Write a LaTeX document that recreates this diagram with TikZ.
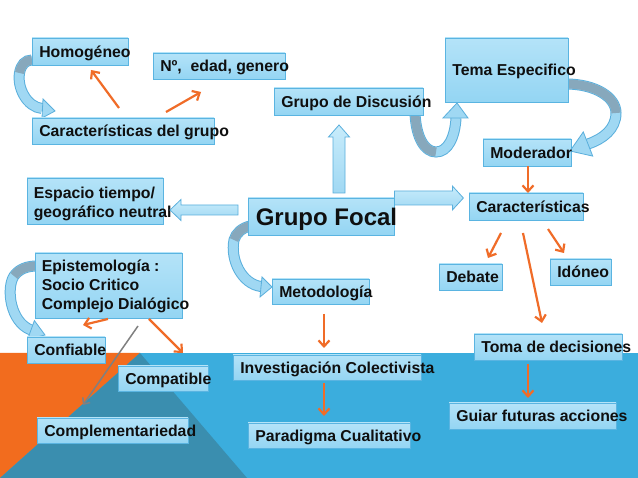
\documentclass[tikz,border=0pt]{standalone}
\usepackage{fontspec}
\setmainfont{Liberation Sans}
\usetikzlibrary{arrows.meta,shadows,calc}
\pgfdeclarelayer{bgl}
\pgfdeclarelayer{midl}
\pgfsetlayers{bgl,midl,main}
\definecolor{bxtop}{RGB}{180,227,248}
\definecolor{bxmid}{RGB}{200,236,251}
\definecolor{bxbot}{RGB}{148,213,243}
\definecolor{bxbord}{RGB}{90,180,225}
\definecolor{rfill}{RGB}{160,216,243}
\definecolor{rbord}{RGB}{90,175,220}
\definecolor{rgray}{RGB}{135,168,188}
\definecolor{oran}{RGB}{240,108,40}
\definecolor{bgorange}{RGB}{242,108,30}
\definecolor{bgblue}{RGB}{59,173,221}
\definecolor{bgteal}{RGB}{58,142,175}
\definecolor{txtc}{RGB}{15,15,15}
\newcommand{\mybox}[6]{%
  \node[boxst, minimum width=#4pt, minimum height=#5pt] (#1) at (#2,#3) {};
  \node[txt, anchor=west] (#1t) at ([xshift=7.5pt]#1.west) {#6};}
\begin{document}
\begin{tikzpicture}[x=1pt,y=-1pt,
  boxst/.style={draw=bxbord, line width=0.8pt, top color=bxtop, middle color=bxmid, bottom color=bxbot, inner sep=0pt,
    drop shadow={opacity=0.3, shadow xshift=1.2pt, shadow yshift=-1.5pt}},
  txt/.style={inner sep=0pt, font=\fontsize{15.8}{19}\selectfont\bfseries, text=txtc, text height=11.3pt, text depth=0pt},
  txtm/.style={inner sep=0pt, font=\fontsize{15.8}{19}\selectfont\bfseries, text=txtc, align=left},
  oar/.style={draw=oran, line width=2.2pt, -{Straight Barb[length=6pt,width=11pt]}},
  gar/.style={draw=gray, line width=1.5pt, -{Straight Barb[length=5pt,width=9pt]}},
  rb/.style={draw=rbord, line width=11pt},
  rf/.style={draw=rfill, line width=9pt},
  rg/.style={draw=rgray, line width=9pt},
  rh/.style={fill=rfill, draw=rbord, line width=0.8pt, line join=miter},
  barr/.style={top color=bxmid, bottom color=rfill, draw=rbord, line width=0.8pt}
]
\useasboundingbox (0,0) rectangle (638,478);
\begin{pgfonlayer}{bgl}
  \fill[white] (0,0) rectangle (638,478);
  \fill[bgblue] (0,353) rectangle (638,478);
  \fill[bgorange] (0,353) -- (140,353) -- (0,478) -- cycle;
  \fill[bgteal] (140,353) -- (247,478) -- (0,478) -- cycle;
\end{pgfonlayer}

% boxes
\mybox{hom}{80}{51.5}{96}{27}{Homogéneo}
\mybox{nro}{219}{66}{132}{26}{Nº,\ \ edad, genero}
\mybox{cg}{123}{131}{182}{26}{Características del grupo}
\node[boxst, minimum width=136pt, minimum height=46pt] (esp) at (95,201) {};
\node[txtm, anchor=west] (espt) at ([shift={(7pt,2.5)}]esp.west) {Espacio tiempo/\\geográfico neutral};
\mybox{gd}{348.5}{101.5}{149}{27}{Grupo de Discusión}
\mybox{tema}{506.5}{70}{123}{64}{Tema Especifico}
\mybox{mod}{527}{152.5}{88}{27}{Moderador}
\mybox{car}{526}{206.5}{114}{27}{Características}
\node[boxst, minimum width=146pt, minimum height=37pt] (gf) at (321,216.5) {};
\node[txt, font=\fontsize{24}{28}\selectfont\bfseries, text height=17.2pt, anchor=west] (gft) at ([xshift=8pt]gf.west) {Grupo Focal};
\mybox{met}{320.5}{291.5}{97}{25}{Metodología}
\node[boxst, minimum width=147pt, minimum height=65pt] (epi) at (108.5,285.5) {};
\node[txtm, anchor=west] (epit) at ([shift={(7pt,0.5)}]epi.west) {Epistemología :\\Socio Critico\\Complejo Dialógico};
\mybox{conf}{66}{350}{78}{26}{Confiable}
\mybox{comp}{163}{378.5}{90}{25}{Compatible}
\mybox{compl}{112.5}{430.5}{151}{25}{Complementariedad}
\mybox{inv}{327}{367.5}{188}{25}{Investigación Colectivista}
\mybox{par}{329}{435.5}{162}{25}{Paradigma Cualitativo}
\mybox{deb}{470.5}{277}{63}{26}{Debate}
\mybox{ido}{580.5}{272}{61}{26}{Idóneo}
\mybox{toma}{548}{347}{148}{26}{Toma de decisiones}
\mybox{guiar}{532.5}{416}{167}{26}{Guiar futuras acciones}

% curved ribbons and straight block arrows, under the boxes
\begin{pgfonlayer}{midl}
  % Homogeneo -> Caracteristicas del grupo
  \draw[rb] (32,60) .. controls (25,60) and (21,65) .. (19.5,73) .. controls (17,88) and (27,107) .. (42,108.5);
  \draw[rf] (32,60) .. controls (25,60) and (21,65) .. (19.5,73) .. controls (17,88) and (27,107) .. (42,108.5);
  \draw[rg] (32,60) .. controls (25,60) and (21,65) .. (19.5,73);
  \draw[rh] (55,111) -- (43,99) -- (42,118) -- cycle;
  % Grupo de Discusion -> Tema Especifico
  \draw[rb] (415,113) .. controls (416,138) and (425,152) .. (436,152) .. controls (448,152) and (455,137) .. (456,118);
  \draw[rf] (415,113) .. controls (416,138) and (425,152) .. (436,152) .. controls (448,152) and (455,137) .. (456,118);
  \draw[rg] (415,113) .. controls (416,138) and (425,152) .. (436,152);
  \draw[rh] (457,103) -- (468,118) -- (443,118) -- cycle;
  % Tema Especifico -> Moderador
  \draw[rb] (566,84) .. controls (595,84) and (616,97) .. (616,113) .. controls (616,129) and (603,139) .. (588,144);
  \draw[rf] (566,84) .. controls (595,84) and (616,97) .. (616,113) .. controls (616,129) and (603,139) .. (588,144);
  \draw[rg] (566,84) .. controls (595,84) and (616,97) .. (616,113);
  \draw[rh] (570,151) -- (583.3,131.9) -- (592.7,156.1) -- cycle;
  % Epistemologia -> Confiable
  \draw[rb] (37,266) .. controls (27,266) and (19,269) .. (14,276) .. controls (6,288) and (10,322) .. (31,330);
  \draw[rf] (37,266) .. controls (27,266) and (19,269) .. (14,276) .. controls (6,288) and (10,322) .. (31,330);
  \draw[rg] (37,266) .. controls (27,266) and (19,269) .. (14,276);
  \draw[rh] (45,335) -- (34.4,320.6) -- (27.6,339.4) -- cycle;
  % Grupo Focal -> Metodologia
  \draw[rb] (250,226) .. controls (242,228) and (236,233) .. (234,240) .. controls (230,260) and (242,284) .. (261,286.5);
  \draw[rf] (250,226) .. controls (242,228) and (236,233) .. (234,240) .. controls (230,260) and (242,284) .. (261,286.5);
  \draw[rg] (250,226) .. controls (242,228) and (236,233) .. (234,240);
  \draw[rh] (272,287) -- (262,277) -- (260,297) -- cycle;
  % straight block arrows
  \coordinate (u0) at ([shift={(18,-23.5)}]gf.center);
  \draw[barr] ($(u0)+(-6,0)$) -- ($(u0)+(-6,-56)$) -- ($(u0)+(-10.5,-56)$) -- ($(u0)+(0,-68)$)
     -- ($(u0)+(10.5,-56)$) -- ($(u0)+(6,-56)$) -- ($(u0)+(6,0)$) -- cycle;
  \coordinate (r0) at (gf.east |- car.center);
  \coordinate (r0) at ([yshift=8.5]r0);
  \draw[barr] ($(r0)+(0,-7)$) -- ($(r0)+(58,-7)$) -- ($(r0)+(58,-12)$) -- ($(r0)+(69,0)$)
     -- ($(r0)+(58,12)$) -- ($(r0)+(58,7)$) -- ($(r0)+(0,7)$) -- cycle;
\end{pgfonlayer}

% left block arrow drawn over the text it touches
\coordinate (l0) at ([shift={(-83,-6.5)}]gf.center);
\draw[barr] ($(l0)+(0,-5)$) -- ($(l0)+(-57,-5)$) -- ($(l0)+(-57,-10.5)$) -- ($(l0)+(-68,0)$)
   -- ($(l0)+(-57,10.5)$) -- ($(l0)+(-57,5)$) -- ($(l0)+(0,5)$) -- cycle;

% orange arrows
\draw[oar] ([shift={(-4,-23)}]cg.center) -- ([shift={(11,18.5)}]hom.center);
\draw[oar] ([shift={(43,-19)}]cg.center) -- ([shift={(-18,26)}]nro.center);
\draw[oar] ([shift={(1,13.5)}]mod.center) -- ([shift={(2,-13.5)}]car.center);
\draw[oar] ([shift={(-25,26.5)}]car.center) -- ([shift={(17.5,-19)}]deb.center);
\draw[oar] ([shift={(-3,26.5)}]car.center) -- ([shift={(-6,-24)}]toma.center);
\draw[oar] ([shift={(22,22.5)}]car.center) -- ([shift={(-16.5,-19)}]ido.center);
\draw[oar] ([shift={(3.5,22.5)}]met.center) -- ([shift={(-3,-19.5)}]inv.center);
\draw[oar] ([shift={(-3,15.5)}]inv.center) -- ([shift={(-5,-19.5)}]par.center);
\draw[oar] ([shift={(-20,17)}]toma.center) -- ([shift={(-4.5,-18)}]guiar.center);
\draw[oar] ([shift={(-0.5,33.5)}]epi.center) -- ([shift={(17,-25)}]conf.center);
\draw[oar] ([shift={(40.5,33.5)}]epi.center) -- ([shift={(20,-25.5)}]comp.center);
\draw[gar] ([shift={(29.5,40.5)}]epi.center) -- ([shift={(-29.5,-25.5)}]compl.center);
\end{tikzpicture}
\end{document}
